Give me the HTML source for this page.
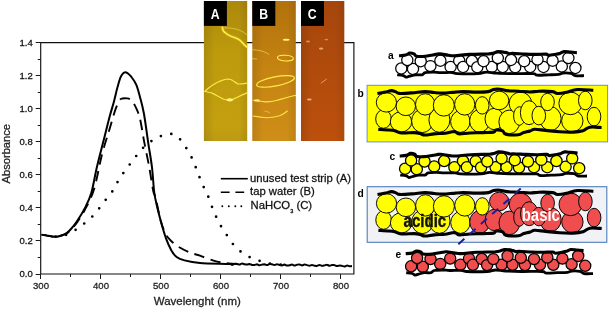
<!DOCTYPE html>
<html lang="en"><head><meta charset="utf-8"><title>Absorbance spectra of test strips</title>
<style>html,body{margin:0;padding:0;background:#fff}svg{display:block}</style></head>
<body>
<svg width="609" height="309" viewBox="0 0 609 309">
<style>#plot text{stroke:#222;stroke-width:.28px;paint-order:stroke}</style>
<g id="plot">
<path d="M40.7 42.6 H353.9 V274.0 H40.7 Z" fill="none" stroke="#111" stroke-width="1.15"/>
<path d="M35.7 274.5H40.7M37.7 257.5H40.7M35.7 240.5H40.7M37.7 224.5H40.7M35.7 207.5H40.7M37.7 191.5H40.7M35.7 174.5H40.7M37.7 158.5H40.7M35.7 141.5H40.7M37.7 125.5H40.7M35.7 108.5H40.7M37.7 92.5H40.7M35.7 75.5H40.7M37.7 59.5H40.7M35.7 42.5H40.7M40.5 274.0V279.0M70.5 274.0V277.0M100.5 274.0V279.0M130.5 274.0V277.0M160.5 274.0V279.0M190.5 274.0V277.0M220.5 274.0V279.0M250.5 274.0V277.0M280.5 274.0V279.0M310.5 274.0V277.0M340.5 274.0V279.0" stroke="#1a1a1a" stroke-width="1" fill="none"/>
<text x="32.8" y="277.3" font-family="Liberation Sans, Arial, sans-serif" font-size="9.5" text-anchor="end" fill="#111">0.0</text>
<text x="32.8" y="244.2" font-family="Liberation Sans, Arial, sans-serif" font-size="9.5" text-anchor="end" fill="#111">0.2</text>
<text x="32.8" y="211.2" font-family="Liberation Sans, Arial, sans-serif" font-size="9.5" text-anchor="end" fill="#111">0.4</text>
<text x="32.8" y="178.1" font-family="Liberation Sans, Arial, sans-serif" font-size="9.5" text-anchor="end" fill="#111">0.6</text>
<text x="32.8" y="145.1" font-family="Liberation Sans, Arial, sans-serif" font-size="9.5" text-anchor="end" fill="#111">0.8</text>
<text x="32.8" y="112.0" font-family="Liberation Sans, Arial, sans-serif" font-size="9.5" text-anchor="end" fill="#111">1.0</text>
<text x="32.8" y="78.9" font-family="Liberation Sans, Arial, sans-serif" font-size="9.5" text-anchor="end" fill="#111">1.2</text>
<text x="32.8" y="45.9" font-family="Liberation Sans, Arial, sans-serif" font-size="9.5" text-anchor="end" fill="#111">1.4</text>
<text x="41.0" y="289.3" font-family="Liberation Sans, Arial, sans-serif" font-size="9.6" text-anchor="middle" fill="#222">300</text>
<text x="101.0" y="289.3" font-family="Liberation Sans, Arial, sans-serif" font-size="9.6" text-anchor="middle" fill="#222">400</text>
<text x="161.0" y="289.3" font-family="Liberation Sans, Arial, sans-serif" font-size="9.6" text-anchor="middle" fill="#222">500</text>
<text x="221.0" y="289.3" font-family="Liberation Sans, Arial, sans-serif" font-size="9.6" text-anchor="middle" fill="#222">600</text>
<text x="281.0" y="289.3" font-family="Liberation Sans, Arial, sans-serif" font-size="9.6" text-anchor="middle" fill="#222">700</text>
<text x="341.0" y="289.3" font-family="Liberation Sans, Arial, sans-serif" font-size="9.6" text-anchor="middle" fill="#222">800</text>
<text x="197.3" y="305.3" font-family="Liberation Sans, Arial, sans-serif" font-size="11.4" text-anchor="middle" fill="#222" textLength="87" lengthAdjust="spacingAndGlyphs">Wavelenght (nm)</text>
<text transform="translate(9.6 153.7) rotate(-90)" font-family="Liberation Sans, Arial, sans-serif" font-size="11.3" text-anchor="middle" fill="#222" textLength="59.5" lengthAdjust="spacingAndGlyphs">Absorbance</text>
<path d="M41.3 234.7C42.2 234.8 44.8 235.2 47.0 235.6C49.2 235.9 52.3 236.7 54.5 236.8C56.7 236.9 58.0 236.6 60.0 236.0C62.0 235.4 64.5 234.6 66.3 233.4C68.1 232.2 69.2 231.0 71.0 229.0C72.8 227.0 74.5 224.9 76.8 221.5C79.1 218.1 82.3 213.2 84.7 208.4C87.1 203.7 89.3 199.8 91.3 193.0C93.3 186.2 94.8 176.1 96.8 167.5C98.8 158.9 101.2 149.9 103.4 141.3C105.6 132.7 108.1 122.3 109.8 116.0C111.5 109.7 112.2 108.0 113.5 103.3C114.8 98.6 116.2 91.9 117.4 87.6C118.6 83.3 119.5 80.0 120.4 77.7C121.3 75.4 122.0 74.5 122.8 73.6C123.6 72.7 124.4 72.2 125.3 72.2C126.2 72.2 127.0 72.8 128.0 73.5C129.0 74.2 129.8 74.9 131.2 76.7C132.6 78.5 134.7 81.1 136.2 84.6C137.7 88.0 138.8 92.5 140.1 97.4C141.4 102.3 142.7 106.7 144.0 114.0C145.3 121.3 146.7 132.4 148.0 141.3C149.3 150.2 151.0 159.1 152.0 167.5C153.0 175.9 153.4 185.6 154.2 192.0C155.0 198.4 155.8 200.9 156.9 205.8C158.0 210.7 159.4 216.0 160.9 221.5C162.4 227.0 164.3 233.8 166.1 238.6C167.8 243.4 169.7 247.3 171.4 250.4C173.2 253.5 174.4 255.3 176.6 257.0C178.8 258.7 180.6 259.4 184.5 260.4C188.4 261.4 192.5 262.4 200.0 263.0C207.5 263.6 224.1 263.8 229.4 264.1C234.7 264.4 231.2 264.9 232.0 264.9C232.8 264.9 233.7 264.1 234.5 263.9C235.3 263.8 236.2 263.8 237.0 263.9C237.8 264.0 238.7 264.6 239.5 264.6C240.3 264.5 241.2 263.6 242.0 263.6C242.8 263.5 243.7 264.0 244.5 264.2C245.3 264.4 246.2 264.7 247.0 264.6C247.8 264.6 248.7 263.9 249.5 263.9C250.3 264.0 251.2 264.8 252.0 265.0C252.8 265.1 253.7 265.0 254.5 264.9C255.3 264.8 256.2 264.3 257.0 264.3C257.8 264.4 258.7 265.2 259.5 265.3C260.3 265.3 261.2 264.8 262.0 264.6C262.8 264.5 263.7 264.2 264.5 264.2C265.3 264.3 266.2 265.1 267.0 265.0C267.8 265.0 268.7 264.2 269.5 264.1C270.3 264.0 271.2 264.2 272.0 264.3C272.8 264.5 273.7 265.1 274.5 265.0C275.3 265.0 276.2 264.2 277.0 264.2C277.8 264.2 278.7 264.8 279.5 265.0C280.3 265.2 281.2 265.5 282.0 265.4C282.8 265.3 283.7 264.6 284.5 264.6C285.3 264.7 286.2 265.5 287.0 265.6C287.8 265.7 288.7 265.5 289.5 265.3C290.3 265.1 291.2 264.6 292.0 264.6C292.8 264.6 293.7 265.5 294.5 265.5C295.3 265.5 296.2 264.9 297.0 264.7C297.8 264.6 298.7 264.4 299.5 264.5C300.3 264.6 301.2 265.4 302.0 265.4C302.8 265.4 303.7 264.7 304.5 264.6C305.3 264.5 306.2 264.9 307.0 265.1C307.8 265.3 308.7 265.8 309.5 265.8C310.3 265.8 311.2 265.0 312.0 265.0C312.8 265.0 313.7 265.6 314.5 265.8C315.3 265.9 316.2 266.1 317.0 265.9C317.8 265.8 318.7 265.0 319.5 265.0C320.3 265.0 321.2 265.8 322.0 265.9C322.8 265.9 323.7 265.6 324.5 265.4C325.3 265.2 326.2 264.7 327.0 264.8C327.8 264.8 328.7 265.7 329.5 265.7C330.3 265.8 331.2 265.2 332.0 265.1C332.8 265.0 333.7 264.9 334.5 265.1C335.3 265.3 336.2 266.1 337.0 266.1C337.8 266.2 338.7 265.4 339.5 265.4C340.3 265.3 341.2 265.7 342.0 265.9C342.8 266.1 343.7 266.5 344.5 266.5C345.3 266.4 346.2 265.5 347.0 265.5C347.8 265.4 348.7 266.1 349.5 266.2C350.3 266.3 351.6 266.1 352.0 266.1" fill="none" stroke="#000" stroke-width="2" stroke-linejoin="round"/>
<path d="M41.3 234.7C42.2 234.8 44.8 235.2 47.0 235.6C49.2 235.9 52.3 236.7 54.5 236.8C56.7 236.9 58.0 236.5 60.0 236.0C62.0 235.5 64.5 234.7 66.3 233.6C68.1 232.5 69.2 231.3 71.0 229.5C72.8 227.7 74.7 225.8 77.0 222.5C79.3 219.2 82.1 215.2 85.0 209.5C87.9 203.8 91.4 197.8 94.2 188.6C97.0 179.4 99.5 164.0 102.0 154.4C104.5 144.8 107.2 137.1 109.0 131.0C110.8 124.9 111.7 121.6 112.8 118.0C113.9 114.4 114.4 112.2 115.5 109.3C116.6 106.4 118.2 102.4 119.4 100.6C120.6 98.8 121.1 98.9 122.4 98.5C123.7 98.1 126.0 98.3 127.3 98.4C128.6 98.5 129.0 98.6 130.0 99.3C131.0 100.0 132.0 100.6 133.2 102.4C134.4 104.2 135.9 107.4 137.1 110.2C138.2 113.0 138.9 113.9 140.1 119.1C141.3 124.3 142.6 133.2 144.1 141.3C145.6 149.4 147.8 159.2 149.3 167.5C150.8 175.8 152.2 186.1 153.3 191.2C154.4 196.3 154.3 192.8 155.6 197.9C156.9 203.0 159.2 215.4 160.9 221.5C162.7 227.6 164.3 231.4 166.1 234.7C167.8 238.0 169.2 239.1 171.4 241.2C173.6 243.3 176.2 245.4 179.3 247.3C182.4 249.2 186.4 251.1 189.8 252.5C193.2 253.9 196.0 254.3 200.0 255.7C204.0 257.1 209.6 259.5 213.6 260.7C217.6 261.9 219.4 262.2 224.2 262.8C229.0 263.4 239.4 264.0 242.5 264.2" fill="none" stroke="#000" stroke-width="1.9" stroke-dasharray="10.5 6.5" stroke-dashoffset="15.15"/>
<path d="M55.6 236.7h.01M66.1 234.8h.01M75.6 229.8h.01M84.2 223.5h.01M92.3 216.5h.01M99.2 208.3h.01M105.7 199.8h.01M112.3 191.4h.01M117.5 182.1h.01M123.3 173.1h.01M129.7 164.5h.01M136.2 156.0h.01M143.1 147.8h.01M151.4 141.1h.01M160.9 136.1h.01M171.3 133.9h.01M180.1 139.3h.01M186.3 148.1h.01M191.6 157.4h.01M195.7 167.2h.01M199.5 177.2h.01M203.7 187.1h.01M208.3 196.7h.01M212.0 206.8h.01M216.1 216.7h.01M221.0 226.2h.01M226.8 235.1h.01M232.9 244.0h.01M240.5 251.4h.01M249.6 257.1h.01M259.6 260.8h.01M269.9 263.5h.01M280.6 264.5h.01" fill="none" stroke="#000" stroke-width="2.7" stroke-linecap="round"/>
<path d="M220.8 178.7H247.8" stroke="#000" stroke-width="1.6"/>
<path d="M220.8 192.3H229.6M235.4 192.3H244.2" stroke="#000" stroke-width="1.6"/>
<path d="M222.3 206.2h.01M228.8 206.2h.01M235.3 206.2h.01M241.3 206.2h.01" stroke="#000" stroke-width="1.9" stroke-linecap="round"/>
<text x="250" y="181.8" font-family="Liberation Sans, Arial, sans-serif" font-size="11.3" fill="#111" textLength="101" lengthAdjust="spacingAndGlyphs">unused test strip (A)</text>
<text x="250" y="195.1" font-family="Liberation Sans, Arial, sans-serif" font-size="11.3" fill="#111" textLength="64.7" lengthAdjust="spacingAndGlyphs">tap water (B)</text>
<text x="250.6" y="209.1" font-family="Liberation Sans, Arial, sans-serif" font-size="11.3" fill="#111">NaHCO<tspan font-size="5.6" dy="4.2">3</tspan><tspan dy="-4.2"> (C)</tspan></text>
</g>
<defs>
<linearGradient id="gA" x1="0" y1="0" x2="0" y2="1"><stop offset="0" stop-color="#AC880C"/><stop offset="0.35" stop-color="#BC9A0C"/><stop offset="0.9" stop-color="#C4A010"/><stop offset="1" stop-color="#BC9A12"/></linearGradient>
<linearGradient id="gE" x1="0" y1="0" x2="1" y2="0"><stop offset="0" stop-color="#000" stop-opacity="0.10"/><stop offset="0.25" stop-color="#000" stop-opacity="0"/><stop offset="0.8" stop-color="#000" stop-opacity="0"/><stop offset="1" stop-color="#000" stop-opacity="0.08"/></linearGradient>
<linearGradient id="gB" x1="0" y1="0" x2="0" y2="1"><stop offset="0" stop-color="#B2720C"/><stop offset="0.5" stop-color="#C68412"/><stop offset="1" stop-color="#CE8E18"/></linearGradient>
<linearGradient id="gC" x1="0" y1="0" x2="0" y2="1"><stop offset="0" stop-color="#A6460C"/><stop offset="1" stop-color="#BC500C"/></linearGradient>
</defs>
<g id="photos">
<rect x="203.9" y="1" width="43.3" height="140" fill="url(#gA)"/>
<rect x="252.3" y="1" width="43.5" height="140" fill="url(#gB)"/>
<rect x="301" y="1" width="43.3" height="140" fill="url(#gC)"/>
<rect x="203.9" y="1" width="43.3" height="140" fill="url(#gE)"/>
<rect x="252.3" y="1" width="43.5" height="140" fill="url(#gE)"/>
<rect x="301" y="1" width="43.3" height="140" fill="url(#gE)"/>
<g id="highlights" fill="none" stroke-linecap="round" stroke-linejoin="round">
<path d="M222.2 27.4C222.6 30 223.4 31.4 224.6 32.3C227 34.4 229 35.6 231.2 36.4C234 37.4 236 38 237.8 38.9C240 40 241.5 41.6 242.7 43C244 44.6 245.6 46 247 47.1" stroke="#E8D020" stroke-width="3.2" opacity="0.35"/>
<path d="M222.2 27.4C222.6 30 223.4 31.4 224.6 32.3C227 34.4 229 35.6 231.2 36.4C234 37.4 236 38 237.8 38.9C240 40 241.5 41.6 242.7 43C244 44.6 245.6 46 247 47.1" stroke="#FFF24A" stroke-width="1.5"/>
<path d="M223 27.9C226 27.8 228.5 27.9 231.2 28.2C234.5 28.7 237 29.2 239.4 30.2C242.5 31.4 245 33 247 34.8" stroke="#F3DC4E" stroke-width="0.8" opacity="0.8"/>
<path d="M204.9 91.3C207.5 88.6 210.5 86.4 213.1 84.7C216 83 218.6 81.6 221.3 80.6C223.8 79.6 226 79 227.9 79C229.8 79.2 231.4 79.8 232.8 80.6C234.4 81.8 236 83.2 237.8 83.9C240.4 84.4 244 83.6 247 83.1" stroke="#FFF24A" stroke-width="1.15" opacity="0.9"/>
<path d="M204.9 91.3C207 92 209.4 92.3 211.5 92.9C214 93.8 216 95 218.1 96.2C220.4 97.6 222.4 98.8 224.6 99.5C226.4 100 228 100.3 229.6 100.3C232.6 99.8 235.4 98.2 237.8 97C241 95.4 244 94 247 92.9" stroke="#FFF24A" stroke-width="1.15" opacity="0.9"/>
<ellipse cx="229.8" cy="99.8" rx="3.2" ry="1.6" fill="#FFF68A" stroke="none" opacity="0.95"/>
<ellipse cx="286.2" cy="39.7" rx="3.4" ry="1" fill="#FFF27A" stroke="none"/>
<ellipse cx="285.4" cy="58.1" rx="8" ry="2.8" stroke="#FFF24A" stroke-width="1" transform="rotate(4 285.4 58.1)"/>
<path d="M252.5 49.6C256 50 259.4 50.4 262.4 51.2C265 52 267.2 53.2 269 54.5" stroke="#F3DC4E" stroke-width="0.8" opacity="0.8"/>
<path d="M252.5 58.6L256.6 59.1" stroke="#F3DC4E" stroke-width="0.8" opacity="0.8"/>
<ellipse cx="275.5" cy="81.4" rx="19.2" ry="4.6" stroke="#FFF24A" stroke-width="1.15" transform="rotate(-11 275.5 81.4)" opacity="0.95"/>
<path d="M253.4 100.3C257 100.6 261 101.6 265.7 101.9C270 102 274 101.2 277.2 100.3C281 99.2 285 98 288.7 97C291 96.4 293.4 95.8 295.6 95.4" stroke="#FFF24A" stroke-width="1.15" opacity="0.9"/>
<ellipse cx="257" cy="100.4" rx="3" ry="1.2" fill="#FFF27A" stroke="none" opacity="0.9"/>
<path d="M253 116C257 116.8 262 117.6 266.5 117.7C271 117.6 275 117 278.8 116C282 115 285 113 287.4 111" stroke="#FFF24A" stroke-width="1.15" opacity="0.85"/>
<path d="M265 111.2C267 111.4 268.6 112 269.6 113" stroke="#F3DC4E" stroke-width="0.8" opacity="0.8"/>
<path d="M321.1 83.1L326.4 79.2" stroke="#F8B070" stroke-width="1" opacity="0.8"/>
<ellipse cx="309.3" cy="99.4" rx="2.4" ry="1" fill="#FFB49A" stroke="none" opacity="0.9"/>
<ellipse cx="308" cy="41.5" rx="2" ry="0.9" fill="#F5A060" stroke="none" opacity="0.8"/>
<ellipse cx="321.1" cy="48.6" rx="2.2" ry="1.1" fill="#F8B070" stroke="none" opacity="0.85"/>
<ellipse cx="326.4" cy="39.6" rx="2" ry="0.8" fill="#F5A060" stroke="none" opacity="0.7"/>
</g>
<rect x="203.9" y="1" width="23" height="24.9" fill="#000"/>
<text transform="translate(215.20000000000002 18.6) scale(0.86 1)" font-family="Liberation Sans, Arial, sans-serif" font-size="14.3" font-weight="bold" text-anchor="middle" fill="#fff">A</text>
<rect x="252.3" y="1" width="23" height="24.9" fill="#000"/>
<text transform="translate(263.6 18.6) scale(0.86 1)" font-family="Liberation Sans, Arial, sans-serif" font-size="14.3" font-weight="bold" text-anchor="middle" fill="#fff">B</text>
<rect x="301" y="1" width="23" height="24.9" fill="#000"/>
<text transform="translate(312.3 18.6) scale(0.86 1)" font-family="Liberation Sans, Arial, sans-serif" font-size="14.3" font-weight="bold" text-anchor="middle" fill="#fff">C</text>
</g>
<g>
<circle cx="401.3" cy="68.4" r="5.6" fill="#fff" stroke="#000" stroke-width="1.25"/>
<circle cx="413.0" cy="68.9" r="5.6" fill="#fff" stroke="#000" stroke-width="1.25"/>
<circle cx="430.4" cy="66.1" r="5.6" fill="#fff" stroke="#000" stroke-width="1.25"/>
<circle cx="450.6" cy="66.9" r="5.6" fill="#fff" stroke="#000" stroke-width="1.25"/>
<circle cx="491.8" cy="66.9" r="5.6" fill="#fff" stroke="#000" stroke-width="1.25"/>
<circle cx="502.7" cy="66.9" r="5.6" fill="#fff" stroke="#000" stroke-width="1.25"/>
<circle cx="515.2" cy="67.2" r="5.6" fill="#fff" stroke="#000" stroke-width="1.25"/>
<circle cx="530.2" cy="66.9" r="5.6" fill="#fff" stroke="#000" stroke-width="1.25"/>
<circle cx="543.5" cy="66.9" r="5.6" fill="#fff" stroke="#000" stroke-width="1.25"/>
<circle cx="561.8" cy="66.4" r="5.6" fill="#fff" stroke="#000" stroke-width="1.25"/>
<circle cx="575.4" cy="67.9" r="5.6" fill="#fff" stroke="#000" stroke-width="1.25"/>
<circle cx="407.3" cy="60.1" r="5.6" fill="#fff" stroke="#000" stroke-width="1.25"/>
<circle cx="420.7" cy="61.2" r="5.6" fill="#fff" stroke="#000" stroke-width="1.25"/>
<circle cx="440.4" cy="60.7" r="5.6" fill="#fff" stroke="#000" stroke-width="1.25"/>
<circle cx="459.2" cy="60.7" r="5.6" fill="#fff" stroke="#000" stroke-width="1.25"/>
<circle cx="463.1" cy="66.9" r="5.6" fill="#fff" stroke="#000" stroke-width="1.25"/>
<circle cx="471.9" cy="61.0" r="5.6" fill="#fff" stroke="#000" stroke-width="1.25"/>
<circle cx="477.3" cy="67.2" r="5.6" fill="#fff" stroke="#000" stroke-width="1.25"/>
<circle cx="483.5" cy="61.2" r="5.6" fill="#fff" stroke="#000" stroke-width="1.25"/>
<circle cx="497.8" cy="58.1" r="5.6" fill="#fff" stroke="#000" stroke-width="1.25"/>
<circle cx="511.0" cy="59.9" r="5.6" fill="#fff" stroke="#000" stroke-width="1.25"/>
<circle cx="524.2" cy="61.2" r="5.6" fill="#fff" stroke="#000" stroke-width="1.25"/>
<circle cx="537.5" cy="59.6" r="5.6" fill="#fff" stroke="#000" stroke-width="1.25"/>
<circle cx="552.6" cy="60.7" r="5.6" fill="#fff" stroke="#000" stroke-width="1.25"/>
<circle cx="568.4" cy="58.1" r="5.6" fill="#fff" stroke="#000" stroke-width="1.25"/>
<path d="M399.0 55.8C400.1 55.7 403.9 55.5 405.7 55.0C407.5 54.6 408.4 53.3 409.8 53.1C411.2 52.9 412.9 53.4 414.0 53.9C415.1 54.4 414.7 55.8 416.6 56.2C418.5 56.6 422.2 56.5 425.4 56.2C428.6 55.9 433.4 54.8 435.8 54.4C438.2 54.0 437.8 53.8 439.9 53.9C442.0 54.0 445.8 54.9 448.2 55.2C450.6 55.5 450.7 55.8 454.3 55.7C457.9 55.6 464.3 54.7 470.0 54.4C475.7 54.1 484.7 54.1 488.7 53.9C492.7 53.6 492.4 53.3 493.9 52.9C495.5 52.5 496.1 51.7 498.0 51.6C499.9 51.5 503.4 52.0 505.3 52.4C507.2 52.7 508.1 53.5 509.3 53.7C510.5 53.9 510.0 53.3 512.6 53.4C515.2 53.5 521.2 53.9 525.0 54.1C528.8 54.3 531.9 54.4 535.4 54.4C538.9 54.4 543.6 54.0 545.8 54.1C548.1 54.3 547.2 55.3 548.9 55.3C550.6 55.3 554.3 54.5 556.1 54.2C557.9 53.9 558.5 53.8 559.8 53.4C561.1 53.0 562.3 51.8 564.0 51.6C565.7 51.4 568.1 51.9 570.2 52.1C572.4 52.3 575.8 52.6 576.9 52.7" fill="none" stroke="#000" stroke-width="3.1" stroke-linejoin="round" stroke-linecap="butt"/>
<path d="M397.2 74.8C398.2 74.9 401.9 75.2 403.4 75.6C404.9 76.0 405.0 77.1 406.0 77.2C407.0 77.3 408.0 76.6 409.6 76.2C411.2 75.8 413.7 75.0 415.8 74.8C417.9 74.6 420.4 75.2 422.0 74.8C423.6 74.4 423.3 73.1 425.2 72.6C427.1 72.2 430.9 72.1 433.5 72.1C436.1 72.1 437.6 72.5 440.7 72.6C443.8 72.7 449.2 72.3 452.0 72.5C454.8 72.7 453.1 73.4 457.4 73.6C461.7 73.8 473.2 73.9 478.0 73.6C482.8 73.4 483.3 72.2 486.4 72.1C489.5 72.0 492.4 72.9 496.7 73.1C501.0 73.4 506.3 73.5 512.4 73.6C518.5 73.7 529.0 73.3 533.1 73.6C537.2 73.9 534.6 75.0 537.2 75.2C539.8 75.4 545.0 74.9 548.6 74.8C552.2 74.7 556.2 74.7 558.6 74.4C561.0 74.1 560.6 73.3 562.7 73.1C564.8 72.9 568.9 73.0 571.0 73.4C573.1 73.8 573.0 75.3 575.2 75.7C577.4 76.1 582.5 75.7 584.0 75.7" fill="none" stroke="#000" stroke-width="2.8" stroke-linejoin="round"/>
<text transform="translate(388.0 58.7) scale(0.9 1)" font-family="Liberation Sans, Arial, sans-serif" font-size="11.4" font-weight="bold" fill="#000">a</text>
</g>
<g>
<circle cx="405.1" cy="168.7" r="5.6" fill="#FFFF00" stroke="#000" stroke-width="1.25"/>
<circle cx="416.8" cy="169.2" r="5.6" fill="#FFFF00" stroke="#000" stroke-width="1.25"/>
<circle cx="434.2" cy="166.4" r="5.6" fill="#FFFF00" stroke="#000" stroke-width="1.25"/>
<circle cx="454.4" cy="167.2" r="5.6" fill="#FFFF00" stroke="#000" stroke-width="1.25"/>
<circle cx="495.6" cy="167.2" r="5.6" fill="#FFFF00" stroke="#000" stroke-width="1.25"/>
<circle cx="506.5" cy="167.2" r="5.6" fill="#FFFF00" stroke="#000" stroke-width="1.25"/>
<circle cx="519.0" cy="167.5" r="5.6" fill="#FFFF00" stroke="#000" stroke-width="1.25"/>
<circle cx="534.0" cy="167.2" r="5.6" fill="#FFFF00" stroke="#000" stroke-width="1.25"/>
<circle cx="547.3" cy="167.2" r="5.6" fill="#FFFF00" stroke="#000" stroke-width="1.25"/>
<circle cx="565.6" cy="166.7" r="5.6" fill="#FFFF00" stroke="#000" stroke-width="1.25"/>
<circle cx="579.2" cy="168.2" r="5.6" fill="#FFFF00" stroke="#000" stroke-width="1.25"/>
<circle cx="411.1" cy="160.4" r="5.6" fill="#FFFF00" stroke="#000" stroke-width="1.25"/>
<circle cx="424.5" cy="161.5" r="5.6" fill="#FFFF00" stroke="#000" stroke-width="1.25"/>
<circle cx="444.2" cy="161.0" r="5.6" fill="#FFFF00" stroke="#000" stroke-width="1.25"/>
<circle cx="463.0" cy="161.0" r="5.6" fill="#FFFF00" stroke="#000" stroke-width="1.25"/>
<circle cx="466.9" cy="167.2" r="5.6" fill="#FFFF00" stroke="#000" stroke-width="1.25"/>
<circle cx="475.7" cy="161.3" r="5.6" fill="#FFFF00" stroke="#000" stroke-width="1.25"/>
<circle cx="481.1" cy="167.5" r="5.6" fill="#FFFF00" stroke="#000" stroke-width="1.25"/>
<circle cx="487.3" cy="161.5" r="5.6" fill="#FFFF00" stroke="#000" stroke-width="1.25"/>
<circle cx="501.6" cy="158.4" r="5.6" fill="#FFFF00" stroke="#000" stroke-width="1.25"/>
<circle cx="514.8" cy="160.2" r="5.6" fill="#FFFF00" stroke="#000" stroke-width="1.25"/>
<circle cx="528.0" cy="161.5" r="5.6" fill="#FFFF00" stroke="#000" stroke-width="1.25"/>
<circle cx="541.3" cy="159.9" r="5.6" fill="#FFFF00" stroke="#000" stroke-width="1.25"/>
<circle cx="556.4" cy="161.0" r="5.6" fill="#FFFF00" stroke="#000" stroke-width="1.25"/>
<circle cx="572.2" cy="158.4" r="5.6" fill="#FFFF00" stroke="#000" stroke-width="1.25"/>
<path d="M399.7 156.1C400.8 156.0 404.6 155.8 406.4 155.3C408.2 154.9 409.1 153.6 410.5 153.4C411.9 153.2 413.6 153.7 414.7 154.2C415.8 154.7 415.4 156.1 417.3 156.5C419.2 156.9 422.9 156.8 426.1 156.5C429.3 156.2 434.1 155.1 436.5 154.7C438.9 154.3 438.5 154.1 440.6 154.2C442.7 154.3 446.5 155.2 448.9 155.5C451.3 155.8 451.4 156.1 455.0 156.0C458.6 155.9 465.0 155.0 470.7 154.7C476.4 154.4 485.4 154.4 489.4 154.2C493.4 153.9 493.1 153.6 494.6 153.2C496.2 152.8 496.8 152.0 498.7 151.9C500.6 151.8 504.1 152.3 506.0 152.7C507.9 153.0 508.8 153.8 510.0 154.0C511.2 154.2 510.7 153.6 513.3 153.7C515.9 153.8 521.9 154.2 525.7 154.4C529.5 154.6 532.6 154.7 536.1 154.7C539.6 154.7 544.2 154.2 546.5 154.4C548.8 154.6 547.9 155.6 549.6 155.6C551.3 155.6 555.0 154.8 556.8 154.5C558.6 154.2 559.2 154.1 560.5 153.7C561.8 153.3 563.0 152.1 564.7 151.9C566.4 151.7 568.8 152.2 570.9 152.4C573.0 152.6 576.5 152.9 577.6 153.0" fill="none" stroke="#000" stroke-width="3.1" stroke-linejoin="round" stroke-linecap="butt"/>
<path d="M400.2 175.1C401.2 175.2 404.9 175.5 406.4 175.9C407.9 176.3 408.0 177.4 409.0 177.5C410.0 177.6 411.0 176.9 412.6 176.5C414.2 176.1 416.7 175.3 418.8 175.1C420.9 174.9 423.4 175.5 425.0 175.1C426.6 174.7 426.3 173.3 428.2 172.9C430.1 172.5 433.9 172.4 436.5 172.4C439.1 172.4 440.6 172.8 443.7 172.9C446.8 173.0 452.2 172.6 455.0 172.8C457.8 173.0 456.1 173.7 460.4 173.9C464.7 174.1 476.2 174.2 481.0 173.9C485.8 173.7 486.3 172.5 489.4 172.4C492.5 172.3 495.4 173.2 499.7 173.4C504.0 173.7 509.3 173.8 515.4 173.9C521.5 174.0 532.0 173.6 536.1 173.9C540.2 174.2 537.6 175.3 540.2 175.5C542.8 175.7 548.0 175.2 551.6 175.1C555.2 175.0 559.2 175.0 561.6 174.7C564.0 174.4 563.6 173.6 565.7 173.4C567.8 173.2 571.9 173.3 574.0 173.7C576.1 174.1 576.0 175.6 578.2 176.0C580.4 176.4 585.5 176.0 587.0 176.0" fill="none" stroke="#000" stroke-width="2.8" stroke-linejoin="round"/>
<text transform="translate(389.6 159.8) scale(0.9 1)" font-family="Liberation Sans, Arial, sans-serif" font-size="11.4" font-weight="bold" fill="#000">c</text>
</g>
<g>
<circle cx="411.1" cy="266.3" r="5.6" fill="#F04E4E" stroke="#000" stroke-width="1.25"/>
<circle cx="422.8" cy="266.8" r="5.6" fill="#F04E4E" stroke="#000" stroke-width="1.25"/>
<circle cx="440.2" cy="264.0" r="5.6" fill="#F04E4E" stroke="#000" stroke-width="1.25"/>
<circle cx="460.4" cy="264.8" r="5.6" fill="#F04E4E" stroke="#000" stroke-width="1.25"/>
<circle cx="501.6" cy="264.8" r="5.6" fill="#F04E4E" stroke="#000" stroke-width="1.25"/>
<circle cx="512.5" cy="264.8" r="5.6" fill="#F04E4E" stroke="#000" stroke-width="1.25"/>
<circle cx="525.0" cy="265.1" r="5.6" fill="#F04E4E" stroke="#000" stroke-width="1.25"/>
<circle cx="540.0" cy="264.8" r="5.6" fill="#F04E4E" stroke="#000" stroke-width="1.25"/>
<circle cx="553.3" cy="264.8" r="5.6" fill="#F04E4E" stroke="#000" stroke-width="1.25"/>
<circle cx="571.6" cy="264.3" r="5.6" fill="#F04E4E" stroke="#000" stroke-width="1.25"/>
<circle cx="585.2" cy="265.8" r="5.6" fill="#F04E4E" stroke="#000" stroke-width="1.25"/>
<circle cx="417.1" cy="258.0" r="5.6" fill="#F04E4E" stroke="#000" stroke-width="1.25"/>
<circle cx="430.5" cy="259.1" r="5.6" fill="#F04E4E" stroke="#000" stroke-width="1.25"/>
<circle cx="450.2" cy="258.6" r="5.6" fill="#F04E4E" stroke="#000" stroke-width="1.25"/>
<circle cx="469.0" cy="258.6" r="5.6" fill="#F04E4E" stroke="#000" stroke-width="1.25"/>
<circle cx="472.9" cy="264.8" r="5.6" fill="#F04E4E" stroke="#000" stroke-width="1.25"/>
<circle cx="481.7" cy="258.9" r="5.6" fill="#F04E4E" stroke="#000" stroke-width="1.25"/>
<circle cx="487.1" cy="265.1" r="5.6" fill="#F04E4E" stroke="#000" stroke-width="1.25"/>
<circle cx="493.3" cy="259.1" r="5.6" fill="#F04E4E" stroke="#000" stroke-width="1.25"/>
<circle cx="507.6" cy="256.0" r="5.6" fill="#F04E4E" stroke="#000" stroke-width="1.25"/>
<circle cx="520.8" cy="257.8" r="5.6" fill="#F04E4E" stroke="#000" stroke-width="1.25"/>
<circle cx="534.0" cy="259.1" r="5.6" fill="#F04E4E" stroke="#000" stroke-width="1.25"/>
<circle cx="547.3" cy="257.5" r="5.6" fill="#F04E4E" stroke="#000" stroke-width="1.25"/>
<circle cx="562.4" cy="258.6" r="5.6" fill="#F04E4E" stroke="#000" stroke-width="1.25"/>
<circle cx="578.2" cy="256.0" r="5.6" fill="#F04E4E" stroke="#000" stroke-width="1.25"/>
<path d="M405.7 253.7C406.8 253.6 410.6 253.3 412.4 252.9C414.2 252.5 415.1 251.2 416.5 251.0C417.9 250.8 419.6 251.3 420.7 251.8C421.8 252.3 421.4 253.7 423.3 254.1C425.2 254.5 428.9 254.4 432.1 254.1C435.3 253.8 440.1 252.7 442.5 252.3C444.9 251.9 444.5 251.7 446.6 251.8C448.7 251.9 452.5 252.8 454.9 253.1C457.3 253.4 457.4 253.7 461.0 253.6C464.6 253.5 471.0 252.6 476.7 252.3C482.4 252.0 491.4 252.0 495.4 251.8C499.4 251.5 499.1 251.2 500.6 250.8C502.2 250.4 502.8 249.6 504.7 249.5C506.6 249.4 510.1 249.9 512.0 250.3C513.9 250.6 514.8 251.4 516.0 251.6C517.2 251.8 516.7 251.2 519.3 251.3C521.9 251.4 527.9 251.8 531.7 252.0C535.5 252.2 538.6 252.3 542.1 252.3C545.6 252.3 550.2 251.8 552.5 252.0C554.8 252.2 553.9 253.2 555.6 253.2C557.3 253.2 561.0 252.4 562.8 252.1C564.6 251.8 565.2 251.7 566.5 251.3C567.8 250.9 569.0 249.7 570.7 249.5C572.4 249.3 574.8 249.8 576.9 250.0C579.0 250.2 582.5 250.5 583.6 250.6" fill="none" stroke="#000" stroke-width="3.1" stroke-linejoin="round" stroke-linecap="butt"/>
<path d="M406.2 272.7C407.2 272.8 410.9 273.1 412.4 273.5C413.9 273.9 414.0 275.0 415.0 275.1C416.0 275.2 417.0 274.5 418.6 274.1C420.2 273.7 422.7 272.9 424.8 272.7C426.9 272.5 429.4 273.1 431.0 272.7C432.6 272.3 432.3 270.9 434.2 270.5C436.1 270.1 439.9 270.0 442.5 270.0C445.1 270.0 446.6 270.4 449.7 270.5C452.8 270.6 458.2 270.2 461.0 270.4C463.8 270.6 462.1 271.3 466.4 271.5C470.7 271.7 482.2 271.8 487.0 271.5C491.8 271.2 492.3 270.1 495.4 270.0C498.5 269.9 501.4 270.8 505.7 271.0C510.0 271.2 515.3 271.4 521.4 271.5C527.5 271.6 538.0 271.2 542.1 271.5C546.2 271.8 543.6 272.9 546.2 273.1C548.8 273.3 554.0 272.8 557.6 272.7C561.2 272.6 565.2 272.6 567.6 272.3C570.0 272.0 569.6 271.2 571.7 271.0C573.8 270.8 577.9 270.9 580.0 271.3C582.1 271.7 582.0 273.2 584.2 273.6C586.4 274.0 591.5 273.6 593.0 273.6" fill="none" stroke="#000" stroke-width="2.8" stroke-linejoin="round"/>
<text transform="translate(395.5 257.7) scale(0.9 1)" font-family="Liberation Sans, Arial, sans-serif" font-size="11.4" font-weight="bold" fill="#000">e</text>
</g>
<rect x="367.1" y="85.3" width="240.5" height="56.6" fill="#FFFF00" stroke="#6A8FC8" stroke-width="1"/>
<ellipse cx="383.5" cy="119.0" rx="7.8" ry="9.3" fill="#FFFF00" stroke="#000" stroke-width="0.95"/>
<ellipse cx="401.0" cy="121.9" rx="10.7" ry="10.1" fill="#FFFF00" stroke="#000" stroke-width="0.95"/>
<ellipse cx="422.3" cy="120.9" rx="10.7" ry="11.7" fill="#FFFF00" stroke="#000" stroke-width="0.95"/>
<ellipse cx="439.4" cy="119.9" rx="10.5" ry="12.4" fill="#FFFF00" stroke="#000" stroke-width="0.95"/>
<ellipse cx="460.3" cy="121.6" rx="9.7" ry="10.8" fill="#FFFF00" stroke="#000" stroke-width="0.95"/>
<ellipse cx="479.7" cy="120.9" rx="10.1" ry="11.3" fill="#FFFF00" stroke="#000" stroke-width="0.95"/>
<ellipse cx="494.3" cy="119.0" rx="9.3" ry="10.7" fill="#FFFF00" stroke="#000" stroke-width="0.95"/>
<ellipse cx="386.4" cy="102.4" rx="10.1" ry="9.7" fill="#FFFF00" stroke="#000" stroke-width="0.95"/>
<ellipse cx="405.8" cy="106.3" rx="9.7" ry="9.3" fill="#FFFF00" stroke="#000" stroke-width="0.95"/>
<ellipse cx="425.2" cy="104.4" rx="9.7" ry="10.7" fill="#FFFF00" stroke="#000" stroke-width="0.95"/>
<ellipse cx="443.8" cy="105.4" rx="10.5" ry="10.7" fill="#FFFF00" stroke="#000" stroke-width="0.95"/>
<ellipse cx="464.7" cy="104.4" rx="10.1" ry="10.7" fill="#FFFF00" stroke="#000" stroke-width="0.95"/>
<ellipse cx="482.2" cy="105.4" rx="6.8" ry="8.7" fill="#FFFF00" stroke="#000" stroke-width="0.95"/>
<ellipse cx="499.1" cy="100.5" rx="9.7" ry="9.3" fill="#FFFF00" stroke="#000" stroke-width="0.95"/>
<ellipse cx="509.3" cy="121.9" rx="10.4" ry="11.8" fill="#FFFF00" stroke="#000" stroke-width="0.95"/>
<ellipse cx="520.4" cy="103.4" rx="11.3" ry="11.3" fill="#FFFF00" stroke="#000" stroke-width="0.95"/>
<ellipse cx="519.4" cy="116.0" rx="5.8" ry="9.3" fill="#FFFF00" stroke="#000" stroke-width="0.95"/>
<ellipse cx="529.1" cy="112.7" rx="8.7" ry="12" fill="#FFFF00" stroke="#000" stroke-width="0.95"/>
<ellipse cx="550.4" cy="118.6" rx="10.7" ry="12" fill="#FFFF00" stroke="#000" stroke-width="0.95"/>
<ellipse cx="538.8" cy="115.6" rx="6.8" ry="9.3" fill="#FFFF00" stroke="#000" stroke-width="0.95"/>
<ellipse cx="547.5" cy="102.0" rx="6.8" ry="8.7" fill="#FFFF00" stroke="#000" stroke-width="0.95"/>
<ellipse cx="572.3" cy="120.9" rx="10.7" ry="10.9" fill="#FFFF00" stroke="#000" stroke-width="0.95"/>
<ellipse cx="570.4" cy="103.4" rx="11.5" ry="11.3" fill="#FFFF00" stroke="#000" stroke-width="0.95"/>
<ellipse cx="585.3" cy="100.5" rx="6.8" ry="9.3" fill="#FFFF00" stroke="#000" stroke-width="0.95"/>
<ellipse cx="594.0" cy="116.6" rx="6.8" ry="9.3" fill="#FFFF00" stroke="#000" stroke-width="0.95"/>
<path d="M377.4 93.5C378.8 93.3 383.2 92.6 385.5 92.1C387.8 91.6 389.6 90.6 391.4 90.6C393.1 90.6 394.7 91.4 396.0 91.9C397.3 92.4 396.7 93.2 399.3 93.4C401.9 93.6 407.5 93.2 411.8 92.9C416.1 92.6 421.2 91.7 424.9 91.6C428.6 91.5 431.0 92.2 434.1 92.5C437.2 92.8 439.8 93.2 443.3 93.1C446.8 93.0 451.7 92.3 455.0 92.1C458.3 91.8 459.6 91.6 463.1 91.6C466.7 91.6 472.1 92.1 476.3 92.1C480.5 92.1 485.2 92.0 488.1 91.6C491.0 91.2 491.4 89.9 493.4 89.5C495.4 89.1 497.7 89.1 499.9 89.3C502.1 89.5 503.4 90.3 506.5 90.6C509.6 90.9 514.4 91.0 518.3 91.2C522.2 91.4 526.6 92.0 530.0 92.0C533.4 92.0 535.0 91.3 538.8 91.2C542.6 91.1 549.5 91.2 552.6 91.6C555.7 92.0 555.1 93.4 557.4 93.5C559.7 93.6 563.1 93.0 566.4 92.3C569.7 91.6 572.9 89.8 577.4 89.5C581.9 89.2 590.6 90.1 593.3 90.2" fill="none" stroke="#000" stroke-width="3.1" stroke-linejoin="round"/>
<path d="M378.3 129.4C380.1 129.5 386.3 129.8 389.0 130.0C391.7 130.2 392.6 130.3 394.7 130.8C396.8 131.3 398.0 132.7 401.3 133.0C404.6 133.3 411.3 132.5 414.4 132.6C417.5 132.7 418.2 133.2 420.0 133.6C421.8 134.0 422.5 134.9 424.9 135.0C427.2 135.1 430.8 134.2 434.1 133.9C437.5 133.6 442.2 133.5 445.0 133.2C447.8 132.9 449.3 132.2 451.0 132.0C452.7 131.8 453.9 131.4 455.3 131.7C456.7 132.0 456.8 133.7 459.2 133.9C461.6 134.1 465.8 133.2 469.7 133.0C473.6 132.8 478.9 132.8 482.9 132.6C486.8 132.4 491.2 132.5 493.4 132.1C495.6 131.7 494.5 130.2 496.0 130.0C497.5 129.8 501.0 130.1 502.6 130.8C504.2 131.5 503.2 133.7 505.8 134.3C508.4 135.0 515.3 135.0 518.3 134.7C521.3 134.4 521.6 133.2 523.6 132.6C525.6 132.0 528.1 131.6 530.0 131.0C531.9 130.4 532.1 129.4 534.7 129.3C537.3 129.2 541.6 130.0 545.7 130.4C549.8 130.8 554.9 131.5 559.5 131.8C564.1 132.1 569.4 132.3 573.3 132.1C577.2 131.9 580.1 131.5 582.9 130.7C585.6 129.9 586.7 127.7 589.8 127.2C592.9 126.7 599.6 127.5 601.6 127.5" fill="none" stroke="#000" stroke-width="3.1" stroke-linejoin="round"/>
<text transform="translate(357.5 96.6) scale(0.9 1)" font-family="Liberation Sans, Arial, sans-serif" font-size="11.4" font-weight="bold" fill="#000">b</text>
<rect x="367.2" y="186.7" width="239.6" height="55.6" fill="#F1F2F6" stroke="#4F7DB8" stroke-width="1.1"/>
<ellipse cx="383.6" cy="220.0" rx="7.8" ry="9.3" fill="#FFFF00" stroke="#000" stroke-width="0.95"/>
<ellipse cx="401.1" cy="222.9" rx="10.7" ry="10.1" fill="#FFFF00" stroke="#000" stroke-width="0.95"/>
<ellipse cx="422.4" cy="221.9" rx="10.7" ry="11.7" fill="#FFFF00" stroke="#000" stroke-width="0.95"/>
<ellipse cx="439.5" cy="220.9" rx="10.5" ry="12.4" fill="#FFFF00" stroke="#000" stroke-width="0.95"/>
<ellipse cx="460.4" cy="222.6" rx="9.7" ry="10.8" fill="#FFFF00" stroke="#000" stroke-width="0.95"/>
<ellipse cx="479.8" cy="221.9" rx="10.1" ry="11.3" fill="#F04E4E" stroke="#000" stroke-width="0.95"/>
<ellipse cx="494.4" cy="220.0" rx="9.3" ry="10.7" fill="#F04E4E" stroke="#000" stroke-width="0.95"/>
<ellipse cx="386.5" cy="203.4" rx="10.1" ry="9.7" fill="#FFFF00" stroke="#000" stroke-width="0.95"/>
<ellipse cx="405.9" cy="207.3" rx="9.7" ry="9.3" fill="#FFFF00" stroke="#000" stroke-width="0.95"/>
<ellipse cx="425.3" cy="205.4" rx="9.7" ry="10.7" fill="#FFFF00" stroke="#000" stroke-width="0.95"/>
<ellipse cx="443.9" cy="206.4" rx="10.5" ry="10.7" fill="#FFFF00" stroke="#000" stroke-width="0.95"/>
<ellipse cx="464.8" cy="205.4" rx="10.1" ry="10.7" fill="#FFFF00" stroke="#000" stroke-width="0.95"/>
<ellipse cx="482.3" cy="206.4" rx="6.8" ry="8.7" fill="#FFFF00" stroke="#000" stroke-width="0.95"/>
<ellipse cx="499.2" cy="201.5" rx="9.7" ry="9.3" fill="#F04E4E" stroke="#000" stroke-width="0.95"/>
<ellipse cx="509.4" cy="222.9" rx="10.4" ry="11.8" fill="#F04E4E" stroke="#000" stroke-width="0.95"/>
<ellipse cx="520.5" cy="204.4" rx="11.3" ry="11.3" fill="#F04E4E" stroke="#000" stroke-width="0.95"/>
<ellipse cx="519.5" cy="217.0" rx="5.8" ry="9.3" fill="#F04E4E" stroke="#000" stroke-width="0.95"/>
<ellipse cx="529.2" cy="213.7" rx="8.7" ry="12" fill="#F04E4E" stroke="#000" stroke-width="0.95"/>
<ellipse cx="550.5" cy="219.6" rx="10.7" ry="12" fill="#F04E4E" stroke="#000" stroke-width="0.95"/>
<ellipse cx="538.9" cy="216.6" rx="6.8" ry="9.3" fill="#F04E4E" stroke="#000" stroke-width="0.95"/>
<ellipse cx="547.6" cy="203.0" rx="6.8" ry="8.7" fill="#F04E4E" stroke="#000" stroke-width="0.95"/>
<ellipse cx="572.4" cy="221.9" rx="10.7" ry="10.9" fill="#F04E4E" stroke="#000" stroke-width="0.95"/>
<ellipse cx="570.5" cy="204.4" rx="11.5" ry="11.3" fill="#F04E4E" stroke="#000" stroke-width="0.95"/>
<ellipse cx="585.4" cy="201.5" rx="6.8" ry="9.3" fill="#F04E4E" stroke="#000" stroke-width="0.95"/>
<ellipse cx="594.1" cy="217.6" rx="6.8" ry="9.3" fill="#F04E4E" stroke="#000" stroke-width="0.95"/>
<path d="M377.5 194.5C378.9 194.3 383.3 193.6 385.6 193.1C387.9 192.6 389.8 191.6 391.5 191.6C393.2 191.6 394.8 192.4 396.1 192.9C397.4 193.4 396.8 194.2 399.4 194.4C402.0 194.6 407.6 194.2 411.9 193.9C416.2 193.6 421.3 192.7 425.0 192.6C428.7 192.5 431.1 193.2 434.2 193.5C437.3 193.8 439.9 194.2 443.4 194.1C446.9 194.0 451.8 193.3 455.1 193.1C458.4 192.8 459.7 192.6 463.2 192.6C466.8 192.6 472.2 193.1 476.4 193.1C480.6 193.1 485.4 193.0 488.2 192.6C491.1 192.2 491.5 190.9 493.5 190.5C495.5 190.1 497.8 190.1 500.0 190.3C502.2 190.5 503.5 191.3 506.6 191.6C509.7 191.9 514.5 192.0 518.4 192.2C522.3 192.4 526.7 193.0 530.1 193.0C533.5 193.0 535.1 192.3 538.9 192.2C542.7 192.1 549.6 192.2 552.7 192.6C555.8 193.0 555.2 194.4 557.5 194.5C559.8 194.6 563.2 194.0 566.5 193.3C569.8 192.6 573.0 190.8 577.5 190.5C582.0 190.2 590.8 191.1 593.4 191.2" fill="none" stroke="#000" stroke-width="3.1" stroke-linejoin="round"/>
<path d="M378.4 230.4C380.2 230.5 386.4 230.8 389.1 231.0C391.8 231.2 392.8 231.3 394.8 231.8C396.9 232.3 398.1 233.7 401.4 234.0C404.7 234.3 411.4 233.5 414.5 233.6C417.6 233.7 418.4 234.2 420.1 234.6C421.9 235.0 422.6 235.9 425.0 236.0C427.4 236.1 430.9 235.2 434.2 234.9C437.6 234.6 442.3 234.5 445.1 234.2C447.9 233.9 449.4 233.2 451.1 233.0C452.8 232.8 454.0 232.4 455.4 232.7C456.8 233.0 456.9 234.7 459.3 234.9C461.7 235.1 465.9 234.2 469.8 234.0C473.8 233.8 479.1 233.8 483.0 233.6C486.9 233.4 491.3 233.5 493.5 233.1C495.7 232.7 494.6 231.2 496.1 231.0C497.6 230.8 501.1 231.1 502.7 231.8C504.3 232.5 503.3 234.7 505.9 235.3C508.5 236.0 515.4 236.0 518.4 235.7C521.4 235.4 521.8 234.2 523.7 233.6C525.7 233.0 528.2 232.6 530.1 232.0C532.0 231.4 532.2 230.4 534.8 230.3C537.4 230.2 541.7 231.0 545.8 231.4C549.9 231.8 555.0 232.5 559.6 232.8C564.2 233.1 569.5 233.3 573.4 233.1C577.3 232.9 580.2 232.5 583.0 231.7C585.8 230.9 586.8 228.7 589.9 228.2C593.0 227.7 599.7 228.4 601.7 228.5" fill="none" stroke="#000" stroke-width="3.1" stroke-linejoin="round"/>
<text transform="translate(357.5 197.4) scale(0.9 1)" font-family="Liberation Sans, Arial, sans-serif" font-size="11.4" font-weight="bold" fill="#000">d</text>
<path d="M520.7 188.6L457.9 244.6" stroke="#1A1F9C" stroke-width="2" stroke-dasharray="8 7.1" fill="none"/>
<text x="403.6" y="227.3" font-family="Liberation Sans, Arial, sans-serif" font-size="18" font-weight="bold" fill="#111" stroke="#111" stroke-width="0.4" textLength="42.6" lengthAdjust="spacingAndGlyphs">acidic</text>
<text x="521.8" y="220.7" font-family="Liberation Sans, Arial, sans-serif" font-size="18" font-weight="bold" fill="#fff" textLength="38" lengthAdjust="spacingAndGlyphs">basic</text>
</svg>
</body></html>
